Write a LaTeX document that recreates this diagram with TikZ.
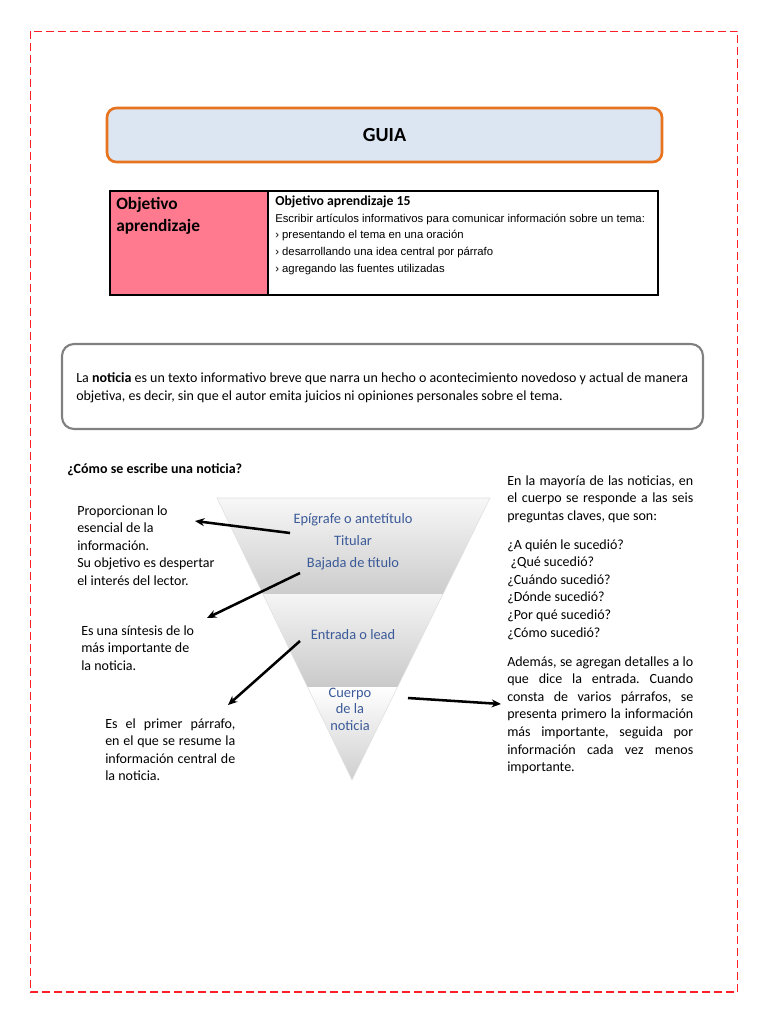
\documentclass[tikz,border=0pt]{standalone}
\usepackage{fontspec}
\setmainfont{Carlito}
\newfontfamily\arialf{Liberation Sans}
\usetikzlibrary{arrows.meta}
\frenchspacing
\definecolor{borderred}{RGB}{255,30,40}
\definecolor{guiafill}{RGB}{220,230,242}
\definecolor{guiaorange}{RGB}{232,115,30}
\definecolor{pinkcell}{RGB}{255,122,142}
\definecolor{boxgray}{RGB}{128,128,128}
\definecolor{triblue}{RGB}{59,90,152}
\newcommand\jrow[1]{\makebox[\linewidth][s]{#1}}
\newcommand\bodyfont{\fontsize{10.5}{13.2}\selectfont}
\begin{document}
\begin{tikzpicture}[x=0.75pt,y=-0.75pt,
  txt/.style={inner sep=0pt, anchor=base west},
  arr/.style={line width=1.9pt, -{Stealth[length=7pt,width=6pt]}},
  tri/.style={text=triblue, inner sep=0pt, anchor=base, font=\fontsize{10.8}{12.5}\selectfont}
]
\useasboundingbox (0,0) rectangle (768,1024);
\draw[borderred, line width=0.9pt, dash pattern=on 6pt off 3pt] (30.5,31.5) rectangle (737.5,992);

% GUIA
\draw[guiaorange, fill=guiafill, line width=2pt, rounded corners=7pt] (107,108) rectangle (662,162);
\node[inner sep=0pt, font=\bfseries\fontsize{15}{18}\selectfont] (guia) at (384.5,135.5) {GUIA};

% table
\fill[pinkcell] (110,191) rectangle (268,295);
\draw[line width=1.5pt] (110,191) rectangle (658,295);
\draw[line width=1.5pt] (268,191) -- (268,295);
\node[txt] (objl) at (116,209) {\begin{minipage}[t]{110pt}\bfseries\fontsize{13}{16.5}\selectfont Objetivo\\aprendizaje\end{minipage}};
\node[txt, font=\bfseries\fontsize{10.3}{12}\selectfont] (objt) at (275,205) {Objetivo aprendizaje 15};
\node[txt] (objd) at (275,222) {\begin{minipage}[t]{290pt}\arialf\fontsize{8.5}{12.5}\selectfont
Escribir artículos informativos para comunicar información sobre un tema:\\
›~presentando el tema en una oración\\
›~desarrollando una idea central por párrafo\\
›~agregando las fuentes utilizadas\end{minipage}};

% definition box
\draw[boxgray, line width=1.6pt, rounded corners=9pt] (62,344) rectangle (703,429);
\node[txt] (def) at (76,382) {\begin{minipage}[t]{470pt}\fontsize{10.5}{13.5}\selectfont
La \textbf{noticia} es un texto informativo breve que narra un hecho o acontecimiento novedoso y actual de manera\\
objetiva, es decir, sin que el autor emita juicios ni opiniones personales sobre el tema.\end{minipage}};

\node[txt, font=\bfseries\fontsize{10.5}{13}\selectfont] (como) at (67,473) {¿Cómo se escribe una noticia?};

% triangle
\shade[top color=gray!6, bottom color=gray!40] (217,498) -- (490,498) -- (443,594) -- (263,594) -- cycle;
\shade[top color=gray!8, bottom color=gray!42] (263,594) -- (443,594) -- (397.5,687) -- (307.5,687) -- cycle;
\shade[top color=white, bottom color=gray!38] (307.5,687) -- (397.5,687) -- (352,780) -- cycle;
\draw[gray!25, line width=0.4pt] (217,498) -- (490,498) -- (352,780) -- cycle;

\node[tri] (epi) at (353,523) {Epígrafe o antetítulo};
\node[tri] (titu) at (353,545) {Titular};
\node[tri] (baja) at (353,567) {Bajada de título};
\node[tri] (entr) at (353,639) {Entrada o lead};
\node[tri] (cuer) at (350,697) {\begin{minipage}[t]{60pt}\centering\fontsize{10.8}{12.4}\selectfont Cuerpo\\de la\\noticia\end{minipage}};

% left texts
\node[txt] (lt1) at (77,515) {\begin{minipage}[t]{150pt}\raggedright\bodyfont
Proporcionan lo\\esencial de la\\información.\\Su objetivo es despertar\\el interés del lector.\end{minipage}};
\node[txt] (lt2) at (81,635) {\begin{minipage}[t]{130pt}\raggedright\bodyfont
Es una síntesis de lo\\más importante de\\la noticia.\end{minipage}};
\node[txt] (lt3) at (105,728) {\begin{minipage}[t]{97.5pt}\raggedright\bodyfont
\jrow{Es el primer párrafo,}\\\jrow{en el que se resume la}\\\jrow{información central de}\\la noticia.\end{minipage}};

% right texts
\node[txt] (rt1) at (507,485) {\begin{minipage}[t]{139.5pt}\raggedright\bodyfont
\jrow{En la mayoría de las noticias, en}\\\jrow{el cuerpo se responde a las seis}\\preguntas claves, que son:\end{minipage}};
\node[txt] (rt2) at (507,549) {\begin{minipage}[t]{139.5pt}\raggedright\bodyfont
¿A quién le sucedió?\\\hspace*{2.5pt}¿Qué sucedió?\\¿Cuándo sucedió?\\¿Dónde sucedió?\\¿Por qué sucedió?\\¿Cómo sucedió?\end{minipage}};
\node[txt] (rt3) at (507,666) {\begin{minipage}[t]{139.5pt}\raggedright\bodyfont
\jrow{Además, se agregan detalles a lo}\\\jrow{que dice la entrada. Cuando}\\\jrow{consta de varios párrafos, se}\\\jrow{presenta primero la información}\\\jrow{más importante, seguida por}\\\jrow{información cada vez menos}\\importante.\end{minipage}};

% arrows
\coordinate (a1s) at (290,533); \coordinate (a1e) at (195,521);
\coordinate (a2s) at (300,573); \coordinate (a2e) at (207,618);
\coordinate (a3s) at (300,641); \coordinate (a3e) at (228,705);
\coordinate (a4s) at (408,698); \coordinate (a4e) at (501,704);
\draw[arr] (a1s) -- (a1e);
\draw[arr] (a2s) -- (a2e);
\draw[arr] (a3s) -- (a3e);
\draw[arr] (a4s) -- (a4e);
\end{tikzpicture}
\end{document}
